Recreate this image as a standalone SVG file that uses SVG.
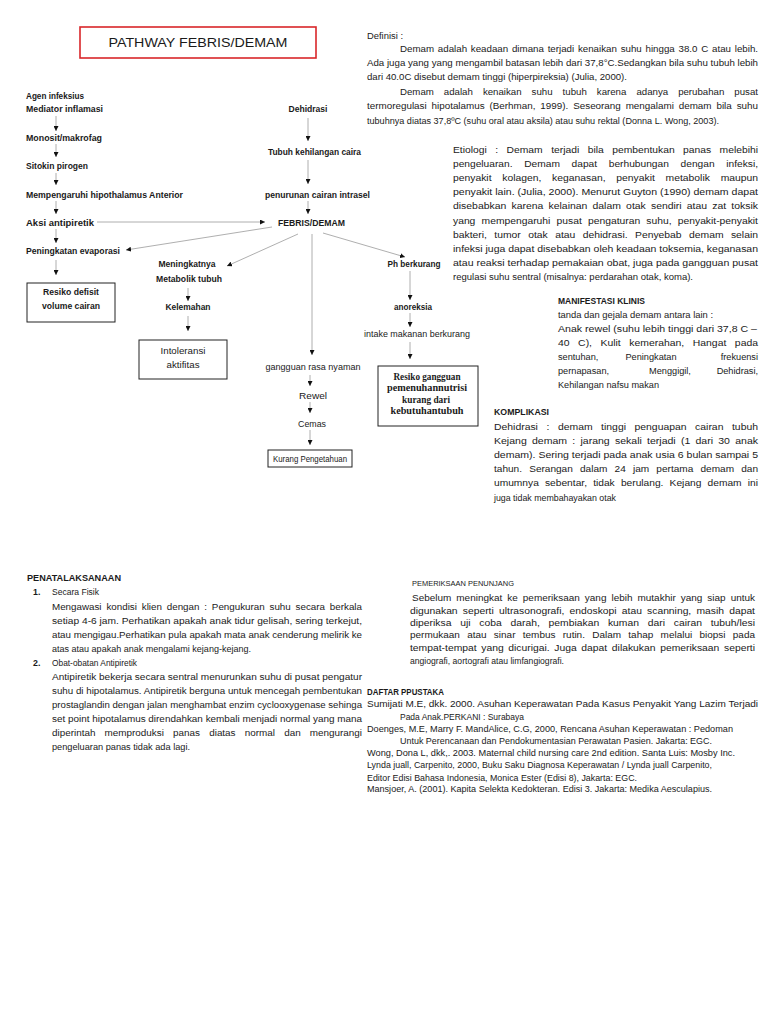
<svg xmlns="http://www.w3.org/2000/svg" width="768" height="1024" viewBox="0 0 768 1024">
<style>
text{font-family:"Liberation Sans",Arial,sans-serif;fill:#1a1a1a}
.lb{font-size:8.6px;font-weight:bold}
.lr{font-size:8.8px}
.p{font-size:9.2px}
.ps{font-size:8.8px}
.h{font-size:8.8px;font-weight:bold}
.sf{font-family:"Liberation Serif","Times New Roman",serif;font-size:9.5px;font-weight:bold}
.box{fill:#fff;stroke:#222;stroke-width:1}
.c line{stroke:#9a9a9a;stroke-width:0.8;marker-end:url(#ah)}
</style>
<defs>
<marker id="ah" viewBox="0 0 6 6" refX="6" refY="3" markerWidth="5" markerHeight="5" markerUnits="userSpaceOnUse" orient="auto"><path d="M0,0 L6,3 L0,6 z" fill="#111"/></marker>
</defs>
<rect width="768" height="1024" fill="#fff"/>

<g id="title">
<rect x="80" y="27" width="236" height="31" fill="#fff" stroke="#d9262a" stroke-width="1.6"/>
<text x="198" y="47" text-anchor="middle" font-size="13.5" textLength="179" lengthAdjust="spacingAndGlyphs">PATHWAY FEBRIS/DEMAM</text>
</g>

<g id="connectors" class="c">
<line x1="56" y1="116" x2="56" y2="131"/>
<line x1="56" y1="144" x2="56" y2="157"/>
<line x1="56" y1="173" x2="56" y2="185"/>
<line x1="56" y1="201" x2="56" y2="214"/>
<line x1="56" y1="229" x2="56" y2="243"/>
<line x1="56" y1="260" x2="56" y2="275"/>
<line x1="97" y1="222" x2="265" y2="222"/>
<line x1="272" y1="227" x2="126" y2="250"/>
<line x1="308" y1="118" x2="308" y2="141"/>
<line x1="308" y1="160" x2="308" y2="184"/>
<line x1="308" y1="201" x2="308" y2="214"/>
<line x1="298" y1="234" x2="227" y2="266"/>
<line x1="312" y1="234" x2="312" y2="355"/>
<line x1="323" y1="233" x2="405" y2="257"/>
<line x1="188" y1="288" x2="188" y2="301"/>
<line x1="188" y1="316" x2="188" y2="331"/>
<line x1="310" y1="375" x2="310" y2="386"/>
<line x1="310" y1="402" x2="310" y2="413"/>
<line x1="310" y1="430" x2="310" y2="445"/>
<line x1="410" y1="271" x2="410" y2="300"/>
<line x1="410" y1="313" x2="410" y2="327"/>
<line x1="410" y1="342" x2="410" y2="359"/>
</g>

<g id="n-agen"><text class="lb" x="26" y="99" textLength="58" lengthAdjust="spacingAndGlyphs">Agen infeksius</text></g>
<g id="n-mediator"><text class="lb" x="26" y="112" textLength="77" lengthAdjust="spacingAndGlyphs">Mediator inflamasi</text></g>
<g id="n-monosit"><text class="lb" x="26" y="141" textLength="76" lengthAdjust="spacingAndGlyphs">Monosit/makrofag</text></g>
<g id="n-sitokin"><text class="lb" x="26" y="169" textLength="62" lengthAdjust="spacingAndGlyphs">Sitokin pirogen</text></g>
<g id="n-hipothalamus"><text class="lb" x="26" y="198" textLength="157" lengthAdjust="spacingAndGlyphs">Mempengaruhi hipothalamus Anterior</text></g>
<g id="n-aksi"><text class="lb" x="26" y="226" textLength="68" lengthAdjust="spacingAndGlyphs">Aksi antipiretik</text></g>
<g id="n-evaporasi"><text class="lb" x="26" y="254" textLength="94" lengthAdjust="spacingAndGlyphs">Peningkatan evaporasi</text></g>
<g id="n-resiko-defisit">
<rect class="box" x="27" y="283" width="88" height="39"/>
<text class="lb" x="71" y="295" text-anchor="middle" textLength="56" lengthAdjust="spacingAndGlyphs">Resiko defisit</text>
<text class="lb" x="71" y="309" text-anchor="middle" textLength="58" lengthAdjust="spacingAndGlyphs">volume cairan</text>
</g>
<g id="n-dehidrasi"><text class="lb" x="308" y="112" text-anchor="middle" textLength="39" lengthAdjust="spacingAndGlyphs">Dehidrasi</text></g>
<g id="n-tubuh"><text class="lb" x="268" y="155" textLength="93" lengthAdjust="spacingAndGlyphs">Tubuh kehilangan caira</text></g>
<g id="n-penurunan"><text class="lb" x="265" y="198" textLength="105" lengthAdjust="spacingAndGlyphs">penurunan cairan intrasel</text></g>
<g id="n-febris"><text class="lb" x="278" y="226" textLength="67" lengthAdjust="spacingAndGlyphs">FEBRIS/DEMAM</text></g>
<g id="n-metabolik">
<text class="lb" x="187" y="267" text-anchor="middle" textLength="57" lengthAdjust="spacingAndGlyphs">Meningkatnya</text>
<text class="lb" x="189" y="282" text-anchor="middle" textLength="66" lengthAdjust="spacingAndGlyphs">Metabolik tubuh</text>
</g>
<g id="n-kelemahan"><text class="lb" x="188" y="310" text-anchor="middle" textLength="45" lengthAdjust="spacingAndGlyphs">Kelemahan</text></g>
<g id="n-intoleransi">
<rect class="box" x="139" y="340" width="88" height="39"/>
<text class="lr" x="183" y="354" text-anchor="middle" textLength="45" lengthAdjust="spacingAndGlyphs">Intoleransi</text>
<text class="lr" x="183" y="368" text-anchor="middle" textLength="33" lengthAdjust="spacingAndGlyphs">aktifitas</text>
</g>
<g id="n-gangguan"><text class="lr" x="313" y="370" text-anchor="middle" textLength="95" lengthAdjust="spacingAndGlyphs">gangguan rasa nyaman</text></g>
<g id="n-rewel"><text class="lr" x="313" y="399" text-anchor="middle" textLength="28" lengthAdjust="spacingAndGlyphs">Rewel</text></g>
<g id="n-cemas"><text class="lr" x="312" y="427" text-anchor="middle" textLength="28" lengthAdjust="spacingAndGlyphs">Cemas</text></g>
<g id="n-kurang-pengetahuan">
<rect class="box" x="268" y="450" width="84" height="17"/>
<text class="lr" x="310" y="462" text-anchor="middle" textLength="74" lengthAdjust="spacingAndGlyphs">Kurang Pengetahuan</text>
</g>
<g id="n-ph"><text class="lb" x="414" y="267" text-anchor="middle" textLength="53" lengthAdjust="spacingAndGlyphs">Ph berkurang</text></g>
<g id="n-anoreksia"><text class="lb" x="413" y="310" text-anchor="middle" textLength="38" lengthAdjust="spacingAndGlyphs">anoreksia</text></g>
<g id="n-intake"><text class="lr" x="417" y="337" text-anchor="middle" textLength="106" lengthAdjust="spacingAndGlyphs">intake makanan berkurang</text></g>
<g id="n-resiko-nutrisi">
<rect class="box" x="378" y="366" width="100" height="60"/>
<text class="sf" x="427" y="380" text-anchor="middle" textLength="67" lengthAdjust="spacingAndGlyphs">Resiko gangguan</text>
<text class="sf" x="427" y="391" text-anchor="middle" textLength="80" lengthAdjust="spacingAndGlyphs">pemenuhannutrisi</text>
<text class="sf" x="426" y="403" text-anchor="middle" textLength="48" lengthAdjust="spacingAndGlyphs">kurang dari</text>
<text class="sf" x="427" y="414" text-anchor="middle" textLength="73" lengthAdjust="spacingAndGlyphs">kebutuhantubuh</text>
</g>

<g id="definisi">
<text class="p" x="367" y="38.5" textLength="36" lengthAdjust="spacingAndGlyphs">Definisi :</text>
<text class="p" x="400" y="51.5" textLength="358" lengthAdjust="spacingAndGlyphs" word-spacing="1">Demam adalah keadaan dimana terjadi kenaikan suhu hingga 38.0 C atau lebih.</text>
<text class="p" x="367" y="65.5" textLength="391" lengthAdjust="spacingAndGlyphs">Ada juga yang yang mengambil batasan lebih dari 37,8°C.Sedangkan bila suhu tubuh lebih</text>
<text class="p" x="367" y="79.5" textLength="260" lengthAdjust="spacingAndGlyphs">dari 40.0C disebut demam tinggi (hiperpireksia) (Julia, 2000).</text>
<text class="p" x="400" y="94.5" textLength="358" lengthAdjust="spacingAndGlyphs" word-spacing="7">Demam adalah kenaikan suhu tubuh karena adanya perubahan pusat</text>
<text class="p" x="367" y="108.5" textLength="391" lengthAdjust="spacingAndGlyphs" word-spacing="2">termoregulasi hipotalamus (Berhman, 1999). Seseorang mengalami demam bila suhu</text>
<text class="p" x="367" y="123.5" textLength="352" lengthAdjust="spacingAndGlyphs">tubuhnya diatas 37,8ºC (suhu oral atau aksila) atau suhu rektal (Donna L. Wong, 2003).</text>
</g>

<g id="etiologi">
<text class="p" x="453" y="152.5" textLength="305" lengthAdjust="spacingAndGlyphs" word-spacing="5">Etiologi : Demam terjadi bila pembentukan panas melebihi</text>
<text class="p" x="453" y="166.7" textLength="305" lengthAdjust="spacingAndGlyphs" word-spacing="8">pengeluaran. Demam dapat berhubungan dengan infeksi,</text>
<text class="p" x="453" y="180.9" textLength="305" lengthAdjust="spacingAndGlyphs" word-spacing="7">penyakit kolagen, keganasan, penyakit metabolik maupun</text>
<text class="p" x="453" y="195.1" textLength="305" lengthAdjust="spacingAndGlyphs">penyakit lain. (Julia, 2000). Menurut Guyton (1990) demam dapat</text>
<text class="p" x="453" y="209.3" textLength="305" lengthAdjust="spacingAndGlyphs" word-spacing="2">disebabkan karena kelainan dalam otak sendiri atau zat toksik</text>
<text class="p" x="453" y="223.5" textLength="305" lengthAdjust="spacingAndGlyphs" word-spacing="3">yang mempengaruhi pusat pengaturan suhu, penyakit-penyakit</text>
<text class="p" x="453" y="237.7" textLength="305" lengthAdjust="spacingAndGlyphs" word-spacing="4">bakteri, tumor otak atau dehidrasi. Penyebab demam selain</text>
<text class="p" x="453" y="251.9" textLength="305" lengthAdjust="spacingAndGlyphs">infeksi juga dapat disebabkan oleh keadaan toksemia, keganasan</text>
<text class="p" x="453" y="266.1" textLength="305" lengthAdjust="spacingAndGlyphs">atau reaksi terhadap pemakaian obat, juga pada gangguan pusat</text>
<text class="p" x="453" y="280.3" textLength="240" lengthAdjust="spacingAndGlyphs">regulasi suhu sentral (misalnya: perdarahan otak, koma).</text>
</g>

<g id="manifestasi">
<text class="h" x="558" y="303.5" textLength="87" lengthAdjust="spacingAndGlyphs">MANIFESTASI KLINIS</text>
<text class="p" x="558" y="317.5" textLength="155" lengthAdjust="spacingAndGlyphs">tanda dan gejala demam antara lain :</text>
<text class="p" x="558" y="331.5" textLength="199" lengthAdjust="spacingAndGlyphs">Anak rewel (suhu lebih tinggi dari 37,8 C –</text>
<text class="p" x="558" y="345.5" textLength="200" lengthAdjust="spacingAndGlyphs" word-spacing="5">40 C), Kulit kemerahan, Hangat pada</text>
<text class="p" y="359.5"><tspan x="558">sentuhan,</tspan><tspan x="651" text-anchor="middle">Peningkatan</tspan><tspan x="758" text-anchor="end">frekuensi</tspan></text>
<text class="p" y="373.5"><tspan x="558">pernapasan,</tspan><tspan x="670" text-anchor="middle">Menggigil,</tspan><tspan x="758" text-anchor="end">Dehidrasi,</tspan></text>
<text class="p" x="558" y="387.5" textLength="101" lengthAdjust="spacingAndGlyphs">Kehilangan nafsu makan</text>
</g>

<g id="komplikasi">
<text class="h" x="494" y="414.5" textLength="55" lengthAdjust="spacingAndGlyphs">KOMPLIKASI</text>
<text class="p" x="494" y="429.5" textLength="264" lengthAdjust="spacingAndGlyphs" word-spacing="5">Dehidrasi : demam tinggi penguapan cairan tubuh</text>
<text class="p" x="494" y="443.5" textLength="264" lengthAdjust="spacingAndGlyphs" word-spacing="2">Kejang demam : jarang sekali terjadi (1 dari 30 anak</text>
<text class="p" x="494" y="457.5" textLength="264" lengthAdjust="spacingAndGlyphs">demam). Sering terjadi pada anak usia 6 bulan sampai 5</text>
<text class="p" x="494" y="471.5" textLength="264" lengthAdjust="spacingAndGlyphs" word-spacing="4">tahun. Serangan dalam 24 jam pertama demam dan</text>
<text class="p" x="494" y="486" textLength="264" lengthAdjust="spacingAndGlyphs" word-spacing="3">umumnya sebentar, tidak berulang. Kejang demam ini</text>
<text class="p" x="494" y="500.5" textLength="122" lengthAdjust="spacingAndGlyphs">juga tidak membahayakan otak</text>
</g>

<g id="penatalaksanaan">
<text class="h" x="27" y="580.5" textLength="94" lengthAdjust="spacingAndGlyphs">PENATALAKSANAAN</text>
<text class="h" x="33" y="594.5">1.</text>
<text class="p" x="52" y="594.5" textLength="47" lengthAdjust="spacingAndGlyphs">Secara Fisik</text>
<text class="p" x="52" y="609.5" textLength="310" lengthAdjust="spacingAndGlyphs" word-spacing="2">Mengawasi kondisi klien dengan : Pengukuran suhu secara berkala</text>
<text class="p" x="52" y="623.5" textLength="310" lengthAdjust="spacingAndGlyphs">setiap 4-6 jam. Perhatikan apakah anak tidur gelisah, sering terkejut,</text>
<text class="p" x="52" y="637.5" textLength="310" lengthAdjust="spacingAndGlyphs">atau mengigau.Perhatikan pula apakah mata anak cenderung melirik ke</text>
<text class="p" x="52" y="651.5" textLength="199" lengthAdjust="spacingAndGlyphs">atas atau apakah anak mengalami kejang-kejang.</text>
<text class="h" x="33" y="665.5">2.</text>
<text class="p" x="52" y="665.5" textLength="85" lengthAdjust="spacingAndGlyphs">Obat-obatan Antipiretik</text>
<text class="p" x="52" y="679.5" textLength="310" lengthAdjust="spacingAndGlyphs">Antipiretik bekerja secara sentral menurunkan suhu di pusat pengatur</text>
<text class="p" x="52" y="693.5" textLength="310" lengthAdjust="spacingAndGlyphs">suhu di hipotalamus. Antipiretik berguna untuk mencegah pembentukan</text>
<text class="p" x="52" y="707.5" textLength="310" lengthAdjust="spacingAndGlyphs">prostaglandin dengan jalan menghambat enzim cyclooxygenase sehinga</text>
<text class="p" x="52" y="721.5" textLength="310" lengthAdjust="spacingAndGlyphs">set point hipotalamus direndahkan kembali menjadi normal yang mana</text>
<text class="p" x="52" y="735.5" textLength="310" lengthAdjust="spacingAndGlyphs" word-spacing="6">diperintah memproduksi panas diatas normal dan mengurangi</text>
<text class="p" x="52" y="749.5" textLength="138" lengthAdjust="spacingAndGlyphs">pengeluaran panas tidak ada lagi.</text>
</g>

<g id="pemeriksaan">
<text x="412" y="586" font-size="7.6" textLength="102" lengthAdjust="spacingAndGlyphs">PEMERIKSAAN PENUNJANG</text>
<text class="ps" x="412" y="600.5" textLength="343" lengthAdjust="spacingAndGlyphs" word-spacing="2">Sebelum meningkat ke pemeriksaan yang lebih mutakhir yang siap untuk</text>
<text class="ps" x="410" y="613.5" textLength="345" lengthAdjust="spacingAndGlyphs" word-spacing="2">digunakan seperti ultrasonografi, endoskopi atau scanning, masih dapat</text>
<text class="ps" x="410" y="625.5" textLength="345" lengthAdjust="spacingAndGlyphs" word-spacing="5">diperiksa uji coba darah, pembiakan kuman dari cairan tubuh/lesi</text>
<text class="ps" x="410" y="637.5" textLength="345" lengthAdjust="spacingAndGlyphs" word-spacing="4">permukaan atau sinar tembus rutin. Dalam tahap melalui biopsi pada</text>
<text class="ps" x="410" y="650.5" textLength="345" lengthAdjust="spacingAndGlyphs" word-spacing="1.5">tempat-tempat yang dicurigai. Juga dapat dilakukan pemeriksaan seperti</text>
<text class="ps" x="410" y="663.5" textLength="154" lengthAdjust="spacingAndGlyphs">angiografi, aortografi atau limfangiografi.</text>
</g>

<g id="daftar-pustaka">
<text class="h" x="367" y="694.5" textLength="77" lengthAdjust="spacingAndGlyphs">DAFTAR PPUSTAKA</text>
<text class="ps" x="367" y="706.5" textLength="391" lengthAdjust="spacingAndGlyphs">Sumijati M.E, dkk. 2000. Asuhan Keperawatan Pada Kasus Penyakit Yang Lazim Terjadi</text>
<text class="ps" x="400" y="719.5" textLength="124" lengthAdjust="spacingAndGlyphs">Pada Anak.PERKANI : Surabaya</text>
<text class="ps" x="367" y="731.5" textLength="366" lengthAdjust="spacingAndGlyphs">Doenges, M.E, Marry F. MandAlice, C.G, 2000, Rencana Asuhan Keperawatan : Pedoman</text>
<text class="ps" x="400" y="743.5" textLength="312" lengthAdjust="spacingAndGlyphs">Untuk Perencanaan dan Pendokumentasian Perawatan Pasien. Jakarta: EGC.</text>
<text class="ps" x="367" y="755.5" textLength="368" lengthAdjust="spacingAndGlyphs">Wong, Dona L, dkk,. 2003. Maternal child nursing care 2nd edition. Santa Luis: Mosby Inc.</text>
<text class="ps" x="367" y="767.5" textLength="345" lengthAdjust="spacingAndGlyphs">Lynda juall, Carpenito, 2000, Buku Saku Diagnosa Keperawatan / Lynda juall Carpenito,</text>
<text class="ps" x="367" y="780.5" textLength="270" lengthAdjust="spacingAndGlyphs">Editor Edisi Bahasa Indonesia, Monica Ester (Edisi 8), Jakarta: EGC.</text>
<text class="ps" x="367" y="791.5" textLength="345" lengthAdjust="spacingAndGlyphs">Mansjoer, A. (2001). Kapita Selekta Kedokteran. Edisi 3. Jakarta: Medika Aesculapius.</text>
</g>
</svg>
